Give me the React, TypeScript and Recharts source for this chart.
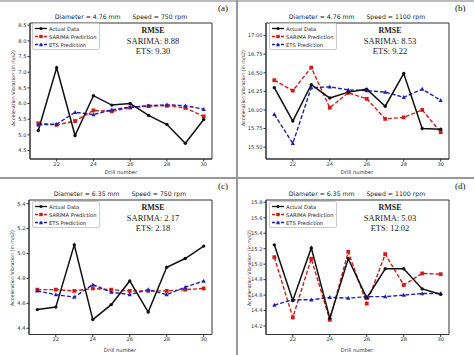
import { LineChart, Line, XAxis, YAxis, ReferenceArea } from 'recharts'

const drills = [21, 22, 23, 24, 25, 26, 27, 28, 29, 30]
const xTicks = [22, 24, 26, 28, 30]

// (a) 4.76 mm, 750 rpm
const actualA = [5.14, 7.14, 4.98, 6.25, 5.95, 6.0, 5.62, 5.33, 4.73, 5.49]
const sarimaA = [5.37, 5.32, 5.44, 5.78, 5.75, 5.87, 5.92, 5.93, 5.86, 5.59]
const etsA = [5.32, 5.34, 5.72, 5.65, 5.8, 5.89, 5.93, 5.96, 5.93, 5.82]

// (b) 4.76 mm, 1100 rpm
const actualB = [16.3, 15.85, 16.34, 16.16, 16.24, 16.28, 16.05, 16.49, 15.75, 15.74]
const sarimaB = [16.4, 16.26, 16.57, 16.03, 16.23, 16.15, 15.88, 15.9, 16.0, 15.7]
const etsB = [15.94, 15.55, 16.3, 16.31, 16.27, 16.26, 16.24, 16.17, 16.28, 16.13]

// (c) 6.35 mm, 750 rpm
const actualC = [4.55, 4.57, 5.07, 4.47, 4.59, 4.78, 4.53, 4.89, 4.96, 5.06]
const sarimaC = [4.71, 4.71, 4.7, 4.72, 4.71, 4.7, 4.7, 4.7, 4.71, 4.72]
const etsC = [4.7, 4.67, 4.65, 4.75, 4.69, 4.67, 4.71, 4.67, 4.73, 4.78]

// (d) 6.35 mm, 1100 rpm
const actualD = [15.25, 14.53, 15.21, 14.3, 15.07, 14.56, 14.94, 14.94, 14.68, 14.61]
const sarimaD = [15.09, 14.31, 15.07, 14.28, 15.16, 14.49, 15.13, 14.73, 14.88, 14.87]
const etsD = [14.47, 14.54, 14.54, 14.57, 14.56, 14.58, 14.58, 14.6, 14.62, 14.62]

const BLACK = '#111'
const RED = '#d01c1c'
const BLUE = '#2020b0'
const X_DOMAIN: [number, number] = [20.55, 30.45]

const Circle = (p: any) => <circle key={`c-${p.index}`} cx={p.cx} cy={p.cy} r={1.7} fill={BLACK} />
const Square = (p: any) => (
  <rect key={`s-${p.index}`} x={p.cx - 1.9} y={p.cy - 1.9} width={3.8} height={3.8} fill={RED} />
)
const Tri = (p: any) => (
  <polygon
    key={`t-${p.index}`}
    points={`${p.cx},${p.cy - 2.3} ${p.cx - 2.1},${p.cy + 1.7} ${p.cx + 2.1},${p.cy + 1.7}`}
    fill={BLUE}
  />
)

function LegendBox() {
  const rows = [
    { label: 'Actual Data', color: BLACK, dash: undefined, mk: 'c' },
    { label: 'SARIMA Prediction', color: RED, dash: '3 1.5', mk: 's' },
    { label: 'ETS Prediction', color: BLUE, dash: '3 1.5', mk: 't' },
  ]
  return (
    <div
      style={{
        position: 'absolute', left: 32, top: 23, width: 66, height: 25,
        border: '1px solid #ccc', borderRadius: 2, background: 'rgba(255,255,255,0.85)',
      }}
    >
      {rows.map((r, i) => (
        <div key={r.label} style={{ position: 'absolute', left: 1, top: 1 + i * 8, height: 7, display: 'flex', alignItems: 'center' }}>
          <svg width={14} height={7}>
            <line x1={1} y1={3.5} x2={13} y2={3.5} stroke={r.color} strokeWidth={1.3} strokeDasharray={r.dash} />
            {r.mk === 'c' && <circle cx={7} cy={3.5} r={1.5} fill={r.color} />}
            {r.mk === 's' && <rect x={5.3} y={1.8} width={3.4} height={3.4} fill={r.color} />}
            {r.mk === 't' && <polygon points="7,1.4 5,5.2 9,5.2" fill={r.color} />}
          </svg>
          <span style={{ fontSize: 5.2, color: '#222', marginLeft: 1, whiteSpace: 'nowrap' }}>{r.label}</span>
        </div>
      ))}
    </div>
  )
}

type PanelProps = {
  left: number
  top: number
  tag: string
  title: string
  actual: number[]
  sarima: number[]
  ets: number[]
  yDomain: [number, number]
  yTicks: number[]
  digits: number
  yWidth: number
  plotTop: number
  rmse: [string, string]
  labelX: number
  labelY: number
}

function Panel(props: PanelProps) {
  const { left, top, tag, title, actual, sarima, ets, yDomain, yTicks, digits, yWidth, plotTop, rmse, labelX, labelY } = props
  const data = drills.map((d, i) => ({ drill: d, actual: actual[i], sarima: sarima[i], ets: ets[i] }))
  const xh = 177 - plotTop - (plotTop === 23 ? 136 : 134.5)
  return (
    <div style={{ position: 'absolute', left, top, width: 237, height: 177 }}>
      <LineChart width={237} height={177} data={data} margin={{ top: plotTop, right: 25, bottom: 0, left: 0 }}>
        <XAxis
          dataKey="drill" type="number" domain={X_DOMAIN} ticks={xTicks} allowDataOverflow
          height={xh} tickSize={2.5} tickMargin={0.8}
          tick={{ fontSize: 5.2, fill: '#333' }} stroke="#333"
        />
        <YAxis
          type="number" domain={yDomain} ticks={yTicks} allowDataOverflow width={yWidth}
          tickSize={2.5} tickMargin={1} tickFormatter={(v: number) => v.toFixed(digits)}
          tick={{ fontSize: 5.2, fill: '#333' }} stroke="#333"
        />
        <ReferenceArea
          x1={X_DOMAIN[0]} x2={X_DOMAIN[1]} y1={yDomain[0]} y2={yDomain[1]}
          fill="none" stroke="#333" strokeWidth={1} ifOverflow="visible"
        />
        <Line dataKey="sarima" stroke={RED} strokeWidth={1.4} strokeDasharray="4 2" dot={Square} isAnimationActive={false} />
        <Line dataKey="ets" stroke={BLUE} strokeWidth={1.4} strokeDasharray="4 2" dot={Tri} isAnimationActive={false} />
        <Line dataKey="actual" stroke={BLACK} strokeWidth={1.5} dot={Circle} isAnimationActive={false} />
      </LineChart>
      <div style={{ position: 'absolute', left: yWidth, width: 182, top: plotTop - 10.5, textAlign: 'center', fontSize: 6.2, color: '#222', whiteSpace: 'pre' }}>
        {title}
      </div>
      <div style={{ position: 'absolute', left: 218, top: 3, fontSize: 9, fontFamily: '"Liberation Serif", serif', color: '#111' }}>{tag}</div>
      <LegendBox />
      <div style={{ position: 'absolute', left: 113, width: 80, top: plotTop + 3, textAlign: 'center', fontFamily: '"Liberation Serif", serif', color: '#222', lineHeight: '10px' }}>
        <div style={{ fontSize: 8, fontWeight: 'bold' }}>RMSE</div>
        <div style={{ fontSize: 8.5 }}>SARIMA: {rmse[0]}</div>
        <div style={{ fontSize: 8.5 }}>ETS: {rmse[1]}</div>
      </div>
      <div
        style={{
          position: 'absolute', left: labelX, top: labelY, transform: 'translate(-50%, -50%) rotate(-90deg)',
          whiteSpace: 'nowrap', fontSize: 4.8, color: '#333',
        }}
      >
        Acceleration Vibration (in m/s2)
      </div>
      <div style={{ position: 'absolute', left: yWidth, width: 182, top: 169, textAlign: 'center', fontSize: 5.2, color: '#333' }}>
        Drill number
      </div>
    </div>
  )
}

export default function App() {
  return (
    <div
      style={{
        position: 'absolute', left: 0, top: 0, width: 474, height: 355, background: '#fff',
        fontFamily: '"DejaVu Sans", sans-serif', overflow: 'hidden',
      }}
    >
      <Panel
        left={0} top={0} tag="(a)" title={'Diameter = 4.76 mm      Speed = 750 rpm'}
        actual={actualA} sarima={sarimaA} ets={etsA}
        yDomain={[4.23, 8.57]} yTicks={[4.5, 5, 5.5, 6, 6.5, 7, 7.5, 8, 8.5]} digits={1}
        yWidth={30} plotTop={23} rmse={['8.88', '9.30']} labelX={13} labelY={88}
      />
      <Panel
        left={237} top={0} tag="(b)" title={'Diameter = 4.76 mm      Speed = 1100 rpm'}
        actual={actualB} sarima={sarimaB} ets={etsB}
        yDomain={[15.34, 17.17]} yTicks={[15.5, 15.75, 16, 16.25, 16.5, 16.75, 17]} digits={2}
        yWidth={29} plotTop={23} rmse={['8.53', '9.22']} labelX={6} labelY={88}
      />
      <Panel
        left={0} top={178} tag="(c)" title={'Diameter = 6.35 mm      Speed = 750 rpm'}
        actual={actualC} sarima={sarimaC} ets={etsC}
        yDomain={[4.35, 5.43]} yTicks={[4.4, 4.6, 4.8, 5, 5.2, 5.4]} digits={1}
        yWidth={29} plotTop={22} rmse={['2.17', '2.18']} labelX={12} labelY={90}
      />
      <Panel
        left={237} top={178} tag="(d)" title={'Diameter = 6.35 mm      Speed = 1100 rpm'}
        actual={actualD} sarima={sarimaD} ets={etsD}
        yDomain={[14.09, 15.83]} yTicks={[14.2, 14.4, 14.6, 14.8, 15, 15.2, 15.4, 15.6, 15.8]} digits={1}
        yWidth={29} plotTop={22} rmse={['5.03', '12.02']} labelX={12} labelY={90}
      />
      <div style={{ position: 'absolute', left: 0, top: 0, width: 474, height: 1.5, background: '#bbb' }} />
      <div style={{ position: 'absolute', left: 236, top: 0, width: 1.5, height: 355, background: '#999' }} />
      <div style={{ position: 'absolute', left: 0, top: 177, width: 474, height: 1.5, background: '#999' }} />
    </div>
  )
}
